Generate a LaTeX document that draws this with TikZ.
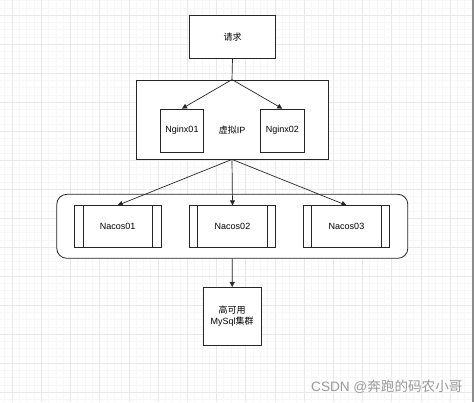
\documentclass[tikz,border=0pt]{standalone}
\usepackage{fontspec}
\setmainfont{Liberation Sans}
\newfontfamily\cjk{Noto Sans CJK SC}
\usetikzlibrary{arrows.meta}

\begin{document}
\begin{tikzpicture}[x=1pt,y=-1pt,
  caja/.style={draw=black!85, line width=0.8pt, inner sep=0pt, fill=white,
    font=\fontsize{9}{11}\selectfont},
  flecha/.style={draw=black!85, line width=0.7pt, -{Triangle[length=5pt,width=5pt]}}]
\useasboundingbox (0,0) rectangle (474,402);
% Fondo con cuadrícula
\fill[white] (0,0) rectangle (474,402);
\foreach \i in {-2,...,64} \draw[black!3, line width=0.5pt] ({12+7.3*\i},0) -- ++(0,402);
\foreach \i in {-2,...,55} \draw[black!3, line width=0.5pt] (0,{15+7.25*\i}) -- ++(474,0);
\foreach \i in {0,...,16} \draw[black!9, line width=0.6pt] ({12+29.2*\i},0) -- ++(0,402);
\foreach \i in {0,...,13} \draw[black!9, line width=0.6pt] (0,{15+29*\i}) -- ++(474,0);
% Petición
\node[caja, minimum width=86.5pt, minimum height=42.5pt] (req) at (232.5,37) {\cjk 请求};
% Caja de la IP virtual con los dos Nginx
\node[caja, minimum width=192pt, minimum height=79pt] (vip) at (232,119.5) {};
\node[caja, minimum width=42.5pt, minimum height=43pt] (ngx1) at (182,130.5) {Nginx01};
\node[caja, minimum width=43.3pt, minimum height=43pt] (ngx2) at (282.3,130.5) {Nginx02};
\node[font=\fontsize{9}{11}\selectfont, inner sep=0pt] (vipt) at (232,130.5) {{\cjk 虚拟}IP};
% Grupo Nacos
\node[caja, rounded corners=10pt, minimum width=351pt, minimum height=64pt] (grupo) at (232.3,226.3) {};
\node[caja, minimum width=86.7pt, minimum height=42pt] (nac1) at (117.7,226.7) {Nacos01};
\node[caja, minimum width=86.7pt, minimum height=42pt] (nac2) at (232.5,226.7) {Nacos02};
\node[caja, minimum width=86.7pt, minimum height=42pt] (nac3) at (346.5,226.7) {Nacos03};
\foreach \n in {nac1,nac2,nac3} {
  \draw[black!85, line width=0.8pt] ([xshift=9pt]\n.north west) -- ([xshift=9pt]\n.south west);
  \draw[black!85, line width=0.8pt] ([xshift=-9pt]\n.north east) -- ([xshift=-9pt]\n.south east);
}
% MySQL
\node[caja, align=center, minimum width=57.7pt, minimum height=57.7pt] (sql) at (232.2,316.2)
  {{\cjk 高可用}\\MySql{\cjk 集群}};
% Conexiones
\draw[black!85, line width=0.7pt] (req.south) -- (vip.north);
\draw[flecha] (vip.north) -- (ngx1.north);
\draw[flecha] (vip.north) -- (ngx2.north);
\draw[flecha] (vip.south) -- (nac1.north);
\draw[flecha] (vip.south) -- (nac2.north);
\draw[flecha] (vip.south) -- (nac3.north);
\draw[flecha] (grupo.south) -- (sql.north);
% Marca de agua y barra lateral
\node[text=black!40, font=\fontsize{13.6}{16}\selectfont, anchor=west, inner sep=0pt] (marca) at (311,387)
  {CSDN @{\cjk 奔跑的码农小哥}};
\fill[black!45] (472,0) rectangle (474,402);
\end{tikzpicture}
\end{document}
